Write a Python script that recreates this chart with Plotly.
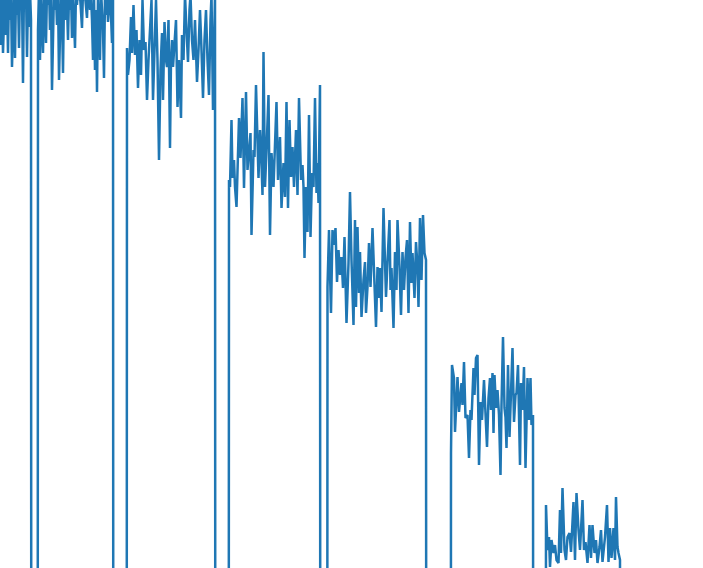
import plotly.graph_objects as go

# baseline level reached between bursts (far below the visible window)
LOW = 1500

seg1_t = [-1, 0, 1, 2, 3, 4, 5, 6, 7, 8, 9, 10, 11, 12, 13, 14, 15, 16, 17, 18, 19, 20,
          21, 22, 23, 24, 25, 26, 27, 28, 29, 30, 31]
seg1_v = [-10, -10, 45, -5, 53, 10, -15, 35, 0, 53, -10, 20, -5, 67, 5, -12, 58, -8, 15, -5,
          48, -10, 10, -5, 83, -15, 5, -10, 57, -5, 27, -10, 20]

seg2_t = list(range(38, 114))
seg2_v = [30, -10, 60, -5, 20, 53, -5, 10, 43, -10, 5, -15, 30, -5, 90, 10, -10, 10, -5, 25,
          -10, 80, 5, -10, 15, 73, -5, 20, -10, 5, 40, -5, 10, -10, 38, 0, 20, 48, -10, 5,
          -15, 0, -5, 10, 28, -10, 0, -5, 5, 18, -10, -5, 10, -5, 20, 60, -5, 70, 10, 92,
          -5, 20, 60, -10, 5, 30, 78, -5, 15, -10, 22, 0, -10, 15, 43, -5]

seg3_t = [127, 128, 129.5, 131, 132, 133.5, 135, 136.5, 138, 139.5, 141, 142.5, 144, 145.5,
          147, 148.5, 150, 151.5, 153, 154.5, 156, 157.5, 159, 160.5, 162, 163, 164.5, 166,
          167, 168.5, 170, 171, 172, 173, 174.5, 176, 177.5, 179, 181, 182, 183.5, 185, 186.5,
          188, 189.5, 190.5, 192, 193.5, 195, 197, 198.5, 200, 201.5, 203, 204.5, 206, 207.5,
          209, 210.5, 211.5, 213, 214, 215]
seg3_v = [48, 75, 60, 17, 53, 5, 55, 30, 88, 40, 75, 0, 50, 42, 100, 60, 28, 0, 100, 40, 0,
          60, 160, 70, 33, 100, 22, 60, 67, 20, 148, 60, 40, 67, 40, 20, 107, 60, 118, 35, 60,
          -5, 30, 62, 10, -5, 40, 60, 20, 82, 50, 10, 50, 98, 40, 10, 60, 95, 20, -5, 110, 20,
          -5]

seg4_t = [229, 230, 231.5, 232.5, 234, 235, 236.5, 239, 240.5, 242.5, 244, 246, 247.5, 249,
          250.5, 251.5, 253.5, 254.5, 256, 258.5, 260, 261, 262.5, 263.5, 265, 266.5, 268.5,
          270, 271.5, 273.5, 275, 276.5, 278, 280, 281.5, 283.5, 285, 286.5, 288, 289.5, 291,
          292.5, 294, 296, 297.5, 299, 301, 302.5, 303.5, 304.5, 306, 307.5, 309, 310.5, 312,
          313.5, 315, 316.5, 317.5, 318.5, 320]
seg4_v = [180, 187, 120, 178, 160, 187, 207, 118, 158, 98, 188, 92, 170, 148, 133, 235, 150,
          157, 85, 178, 130, 147, 195, 52, 187, 150, 95, 235, 153, 187, 140, 102, 180, 137,
          208, 163, 197, 102, 208, 120, 177, 147, 187, 130, 195, 98, 180, 165, 187, 258, 187,
          232, 115, 237, 173, 187, 98, 193, 163, 203, 85]

seg5_t = [327.5, 329, 331, 332.5, 334, 335.5, 337, 338.5, 340, 341.5, 343, 344.5, 346.5,
          348.5, 350, 351.5, 353.5, 355, 356, 357.5, 359, 360, 361.5, 363.5, 365, 366, 367.5,
          369, 370.5, 372.5, 374.5, 376, 377.5, 378.5, 380, 381.5, 383.5, 385, 386, 387.5,
          389.5, 390.5, 391.5, 393.5, 395, 396.5, 397.5, 399.5, 401, 402.5, 404, 405.5, 407,
          408.5, 410, 411.5, 412.5, 414.5, 416, 417.5, 418.5, 420, 421.5, 423, 424.5, 426]
seg5_v = [287, 230, 313, 230, 245, 228, 282, 250, 275, 257, 288, 237, 323, 263, 192, 260,
          325, 220, 307, 227, 293, 252, 317, 280, 262, 313, 287, 243, 287, 228, 275, 327, 267,
          298, 268, 312, 208, 253, 297, 262, 220, 290, 268, 328, 252, 290, 220, 267, 315, 252,
          290, 258, 240, 313, 222, 283, 253, 298, 242, 267, 307, 218, 280, 215, 253, 260]

seg6_t = [451, 452, 454, 455, 456.5, 457.5, 459, 460.5, 461.5, 462.5, 464, 465.5, 467.5, 469,
          470.5, 471.5, 473.5, 474.5, 476, 477.5, 479, 480.5, 482, 484, 485.5, 487, 488.5, 490,
          491, 492.5, 493.5, 494.5, 496, 497.5, 499, 500.5, 501.5, 503, 504.5, 505.5, 506.5,
          508, 509.5, 511, 512.5, 514, 515.5, 516.5, 518, 520, 521, 522.5, 524, 525.5, 526.5,
          527.5, 529, 530.5, 531.5, 533]
seg6_v = [453, 365, 378, 432, 403, 377, 412, 395, 383, 405, 362, 418, 415, 458, 410, 420,
          368, 395, 358, 355, 465, 402, 420, 380, 408, 447, 398, 378, 410, 373, 433, 375, 408,
          390, 415, 475, 405, 337, 408, 417, 448, 365, 437, 398, 348, 422, 395, 393, 365, 465,
          383, 410, 367, 468, 428, 378, 420, 378, 425, 415]

seg7_t = [546, 547.5, 549, 550, 551.5, 553.5, 555, 556.5, 558.5, 560, 561, 562.5, 564.5, 566,
          567.5, 569.5, 571, 573.5, 575, 576.5, 578.5, 580, 582.5, 584, 585.5, 587.5, 589.5,
          591, 592.5, 594.5, 596, 597.5, 599.5, 601, 602.5, 605, 607, 608.5, 610, 611.5, 613.5,
          615, 616, 617.5, 618.5, 620]
seg7_v = [505, 550, 537, 567, 540, 553, 545, 560, 563, 510, 553, 488, 550, 560, 537, 533,
          552, 502, 560, 493, 530, 550, 500, 550, 542, 563, 525, 558, 525, 553, 540, 563, 547,
          530, 562, 537, 505, 562, 528, 558, 528, 560, 497, 547, 553, 560]

segments = [(seg1_t, seg1_v), (seg2_t, seg2_v), (seg3_t, seg3_v), (seg4_t, seg4_v),
            (seg5_t, seg5_v), (seg6_t, seg6_v), (seg7_t, seg7_v)]

xs, ys = [], []
for i, (t, v) in enumerate(segments):
    if i > 0:
        xs.append(t[0] - 0.6)
        ys.append(LOW)
    xs.extend(t)
    ys.extend(v)
    xs.append(t[-1] + 0.6)
    ys.append(LOW)
xs.append(720)
ys.append(LOW)

fig = go.Figure(go.Scatter(x=xs, y=ys, mode="lines",
                           line=dict(color="#1f77b4", width=2.5),
                           hoverinfo="skip"))
fig.update_layout(
    width=703, height=568,
    margin=dict(l=0, r=0, t=0, b=0),
    paper_bgcolor="white", plot_bgcolor="white",
    showlegend=False,
    xaxis=dict(range=[0, 703], visible=False, fixedrange=True),
    yaxis=dict(range=[568, 0], visible=False, fixedrange=True),
)
fig.write_html("out.html", config={"displayModeBar": False},
               post_script="document.body.style.margin='0';document.body.style.padding='0';")
